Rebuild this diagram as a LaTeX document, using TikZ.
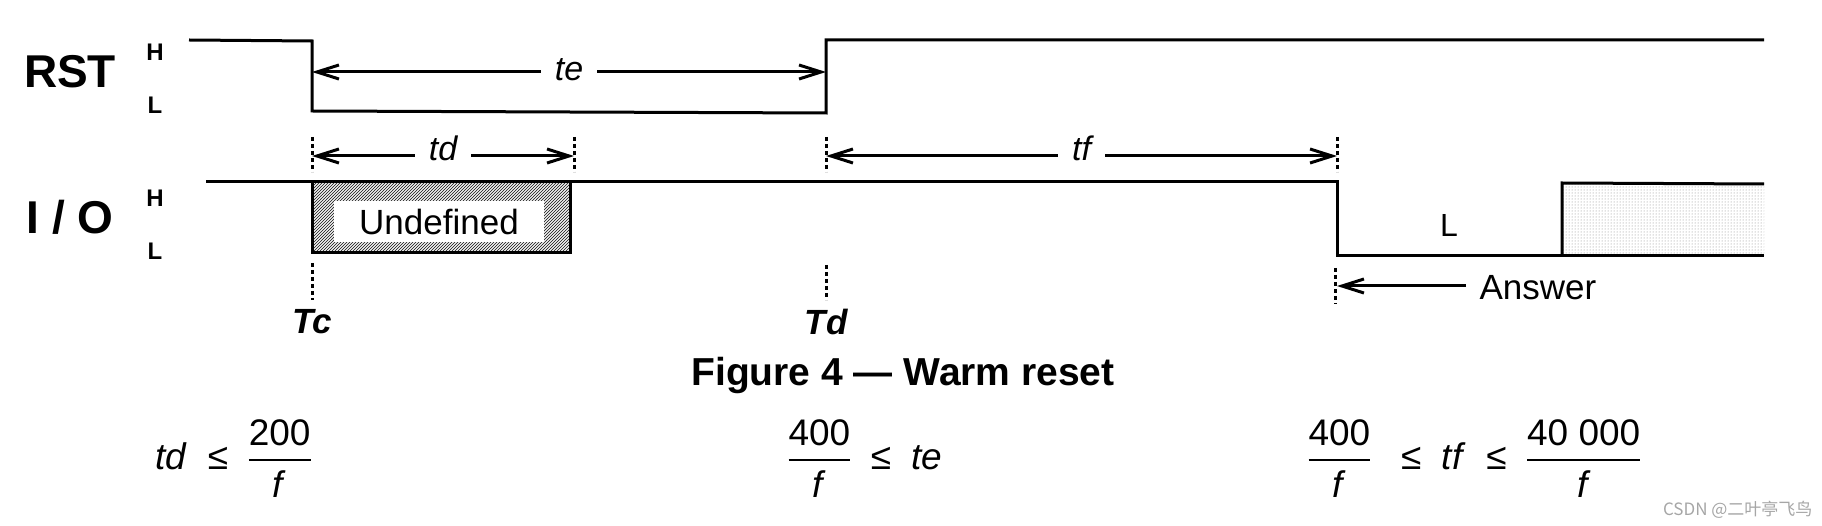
\documentclass[tikz,border=0pt]{standalone}
\usepackage{fontspec}
\setmainfont{Liberation Sans}
\usetikzlibrary{patterns,arrows.meta}
\newfontfamily\cjk{Noto Sans CJK SC}
\newcommand\ffrac[2]{\setlength{\arrayrulewidth}{2pt}\begin{tabular}{@{}c@{}}#1\\[2pt]\hline\rule{0pt}{36pt}#2\end{tabular}}
\begin{document}
\begin{tikzpicture}[x=1pt,y=-1pt,
  sig/.style={line width=3pt,line join=miter},
  dim/.style={line width=3pt,-{Straight Barb[length=22pt,width=14pt]}},
  tick/.style={line width=3pt,dash pattern=on 4pt off 3pt},
  lbl/.style={font=\fontsize{34}{38}\selectfont\itshape,fill=white,inner ysep=2pt,inner xsep=14pt},
  frm/.style={font=\fontsize{37}{40}\selectfont}]
\useasboundingbox (0,0) rectangle (1822,526);
% labels
\node[font=\fontsize{46}{50}\selectfont\bfseries] (rst) at (70,72) {RST};
\node[font=\fontsize{24}{28}\selectfont\bfseries] (rh) at (155,52) {H};
\node[font=\fontsize{24}{28}\selectfont\bfseries] (rl) at (155,105) {L};
\node[font=\fontsize{46}{50}\selectfont\bfseries] (io) at (70,217) {I / O};
\node[font=\fontsize{24}{28}\selectfont\bfseries] (ih) at (155,198) {H};
\node[font=\fontsize{24}{28}\selectfont\bfseries] (il) at (155,251) {L};
% RST
\draw[sig] (189,40) -- (312,41) -- (312,111) -- (826,113) -- (826,40) -- (1764,40);
\coordinate (a1) at (312,72); \coordinate (a2) at (826,72);
\draw[dim,{Straight Barb[length=22pt,width=14pt]}-{Straight Barb[length=22pt,width=14pt]}] (a1) -- (a2) node[midway,lbl,yshift=2pt] (te) {te};
% IO
\path[pattern=north east lines,pattern color=black!80] (312,182) rectangle (570,253);
\path[pattern=north east lines,pattern color=black!80] (312,182) rectangle (570,253);
\node[fill=white,minimum width=210pt,minimum height=41pt,inner sep=0pt,font=\fontsize{35}{38}\selectfont] (und) at (439,222) {Undefined};
\draw[sig] (206,182) -- (1337,182) -- (1337,256) -- (1562,256);
\draw[sig] (312,182) -- (312,253) -- (570,253) -- (570,182);
\path[pattern=dots,pattern color=gray] (1562,184) rectangle (1764,256);
\draw[sig] (1562,256) -- (1562,183) -- (1764,184);
\draw[sig] (1562,256) -- (1764,256);
\node[font=\fontsize{32}{34}\selectfont] (L) at (1449,225) {L};
% ticks
\draw[tick] (312,137) -- (312,172);
\draw[tick] (574,137) -- (574,172);
\draw[tick] (826,137) -- (826,172);
\draw[tick] (1337,137) -- (1337,172);
\draw[tick] (312,263) -- (312,300);
\draw[tick] (826,265) -- (826,300);
\draw[tick] (1335,268) -- (1335,304);
\coordinate (b1) at (312,156); \coordinate (b2) at (574,156);
\coordinate (c1) at (826,156); \coordinate (c2) at (1337,156);
\draw[dim,{Straight Barb[length=22pt,width=14pt]}-{Straight Barb[length=22pt,width=14pt]}] (b1) -- (b2) node[midway,lbl,yshift=8pt] (td) {td};
\draw[dim,{Straight Barb[length=22pt,width=14pt]}-{Straight Barb[length=22pt,width=14pt]}] (c1) -- (c2) node[midway,lbl,yshift=8pt] (tf) {tf};
\node[font=\fontsize{35}{38}\selectfont,anchor=west] (ans) at (1476,288) {Answer};
\coordinate (d1) at (1337,286);
\draw[dim] (ans.west) ++(-10,-2) coordinate (d0) -- (d1);
\node[font=\fontsize{35}{38}\selectfont\bfseries\itshape] (tc) at (312,322) {Tc};
\node[font=\fontsize{35}{38}\selectfont\bfseries\itshape] (tdd) at (826,322) {Td};
\node[font=\fontsize{39}{42}\selectfont\bfseries] (cap) at (903,376) {Figure 4 — Warm reset};
\node[frm,anchor=west] (f1) at (152,463) {\textit{td}\ \ ≤\ \ \ffrac{200}{\textit{f}}};
\node[frm,anchor=west] (f2) at (785,463) {\ffrac{400}{\textit{f}}\ \ ≤\ \ \textit{te}};
\node[frm,anchor=west] (f3) at (1305,463) {\ffrac{400}{\textit{f}}\ \ \ ≤\ \ \textit{tf}\ \ ≤\ \ \ffrac{40 000}{\textit{f}}};
\node[font=\fontsize{17}{18}\selectfont\cjk,text=gray!70,anchor=east] (wm) at (1816,510) {CSDN @二叶亭飞鸟};
\end{tikzpicture}
\end{document}
